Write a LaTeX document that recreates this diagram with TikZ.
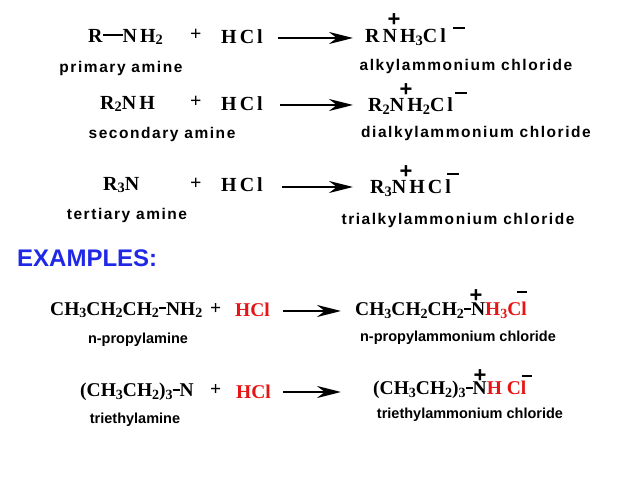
\documentclass[tikz,border=0pt]{standalone}
\usepackage{fontspec}
\setmainfont{Liberation Serif}
\setsansfont{Liberation Sans}
\usetikzlibrary{arrows.meta}
\newfontfamily\spf[LetterSpace=15]{Liberation Serif}
\newfontfamily\sps[LetterSpace=10]{Liberation Sans}
\newcommand\sbs[1]{\raisebox{-0.3ex}{\scalebox{0.72}{#1}}}
\newcommand\bnd[1]{\rule[0.3em]{#1}{2pt}}
\definecolor{myred}{RGB}{230,20,20}
\definecolor{myblue}{RGB}{30,40,230}
\begin{document}
\begin{tikzpicture}[x=1pt,y=-1pt,
  f/.style={anchor=west,inner sep=0pt,font=\spf\bfseries\fontsize{20}{20}\selectfont},
  e/.style={anchor=west,inner sep=0pt,font=\bfseries\fontsize{19.5}{19.5}\selectfont},
  lab/.style={inner sep=0pt,font=\sps\bfseries\fontsize{15.5}{15.5}\selectfont},
  elab/.style={inner sep=0pt,font=\sffamily\bfseries\fontsize{14.5}{14.5}\selectfont},
  ch/.style={inner sep=0pt,font=\sffamily\bfseries\fontsize{22}{22}\selectfont},
  arr/.style={line width=2.2pt,-{Stealth[length=24pt,width=12pt]}}]
\useasboundingbox (0,0) rectangle (638,478);
% row 1
\node[f] (a1) at (88,37) {R\bnd{20pt}NH\sbs{2}};
\node[f] (p1) at (190,35) {+};
\node[f] (h1) at (221,37) {HCl};
\coordinate (s1) at (278,38); \coordinate (t1) at (353,38);
\draw[arr] (s1) -- (t1);
\node[f] (r1) at (365,37) {RNH\sbs{3}Cl};
\node[ch] (c1a) at (394,20) {+}; \node[ch] (c1b) at (459,31) {\bnd{12pt}};
\node[lab] (l1) at (121,68) {primary amine};
\node[lab] (m1) at (466,66) {alkylammonium chloride};
% row 2
\node[f] (a2) at (100,104) {R\sbs{2}NH};
\node[f] (p2) at (190,102) {+};
\node[f] (h2) at (221,104) {HCl};
\coordinate (s2) at (280,105); \coordinate (t2) at (353,105);
\draw[arr] (s2) -- (t2);
\node[f] (r2) at (368,106) {R\sbs{2}NH\sbs{2}Cl};
\node[ch] (c2a) at (406,90) {+}; \node[ch] (c2b) at (461,96) {\bnd{12pt}};
\node[lab] (l2) at (162,134) {secondary amine};
\node[lab] (m2) at (476,133) {dialkylammonium chloride};
% row 3
\node[f] (a3) at (103,185) {R\sbs{3}N};
\node[f] (p3) at (190,184) {+};
\node[f] (h3) at (221,185) {HCl};
\coordinate (s3) at (282,187); \coordinate (t3) at (353,187);
\draw[arr] (s3) -- (t3);
\node[f] (r3) at (370,188) {R\sbs{3}NHCl};
\node[ch] (c3a) at (406,172) {+}; \node[ch] (c3b) at (453,177) {\bnd{12pt}};
\node[lab] (l3) at (127,215) {tertiary amine};
\node[lab] (m3) at (458,220) {trialkylammonium chloride};
% examples
\node[anchor=west,inner sep=0pt,text=myblue,font=\sffamily\bfseries\fontsize{24}{24}\selectfont] (ex) at (17,258) {EXAMPLES:};
% row 4
\node[e] (a4) at (50,310) {CH\sbs{3}CH\sbs{2}CH\sbs{2}\bnd{7pt}NH\sbs{2}};
\node[e] (p4) at (210,309) {+};
\node[e,text=myred] (h4) at (235,310) {HCl};
\coordinate (s4) at (283,311); \coordinate (t4) at (341,311);
\draw[arr] (s4) -- (t4);
\node[e] (r4) at (355,310) {CH\sbs{3}CH\sbs{2}CH\sbs{2}\bnd{7pt}N\textcolor{myred}{H\sbs{3}Cl}};
\node[ch] (c4a) at (476,296) {+}; \node[ch] (c4b) at (522,295) {\bnd{10pt}};
\node[elab] (l4) at (138,340) {n-propylamine};
\node[elab] (m4) at (458,338) {n-propylammonium chloride};
% row 5
\node[e] (a5) at (80,392) {(CH\sbs{3}CH\sbs{2})\sbs{3}\bnd{7pt}N};
\node[e] (p5) at (210,390) {+};
\node[e,text=myred] (h5) at (236,392) {HCl};
\coordinate (s5) at (283,392); \coordinate (t5) at (341,392);
\draw[arr] (s5) -- (t5);
\node[e] (r5) at (373,390) {(CH\sbs{3}CH\sbs{2})\sbs{3}\bnd{7pt}N\textcolor{myred}{H Cl}};
\node[ch] (c5a) at (480,376) {+}; \node[ch] (c5b) at (527,379) {\bnd{10pt}};
\node[elab] (l5) at (135,420) {triethylamine};
\node[elab] (m5) at (470,415) {triethylammonium chloride};
\end{tikzpicture}
\end{document}
